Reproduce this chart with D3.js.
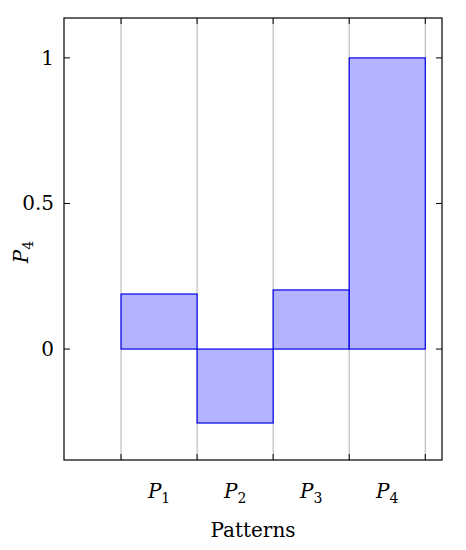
<!DOCTYPE html>
<html><head><meta charset="utf-8">
<script src="https://cdn.jsdelivr.net/npm/d3@7"></script>
<style>body{margin:0;background:#fff}svg text{font-family:"DejaVu Serif","Liberation Serif",serif}</style>
</head><body><svg id="c" width="466" height="550"></svg>
<script>
var categories = ["1", "2", "3", "4"];
var values = [0.189, -0.254, 0.203, 1.0];
var yTicks = [0, 0.5, 1];
var edges = [0.5, 1.5, 2.5, 3.5, 4.5];

var svg = d3.select("#c");
var L = 64, R = 442, T = 18, B = 460;
var x = d3.scaleLinear().domain([-0.25, 4.72]).range([L, R]);
var y = d3.scaleLinear().domain([-0.381, 1.137]).range([B, T]);

// vertical grid
svg.selectAll("line.g").data(edges).enter().append("line")
  .attr("x1", d => x(d)).attr("x2", d => x(d)).attr("y1", T).attr("y2", B)
  .attr("stroke", "#b0b0b0").attr("stroke-width", 1);

// bars
svg.selectAll("rect.b").data(values).enter().append("rect")
  .attr("x", (d, i) => x(edges[i])).attr("width", (d, i) => x(edges[i + 1]) - x(edges[i]))
  .attr("y", d => y(Math.max(0, d))).attr("height", d => Math.abs(y(d) - y(0)))
  .attr("fill", "#b3b3ff").attr("stroke", "#0000e6").attr("stroke-width", 1.2);

// frame
svg.append("rect").attr("x", L).attr("y", T).attr("width", R - L).attr("height", B - T)
  .attr("fill", "none").attr("stroke", "#000").attr("stroke-width", 1.2);

// y ticks
yTicks.forEach(function (t) {
  svg.append("line").attr("x1", L).attr("x2", L + 6).attr("y1", y(t)).attr("y2", y(t)).attr("stroke", "#000");
  svg.append("line").attr("x1", R).attr("x2", R - 6).attr("y1", y(t)).attr("y2", y(t)).attr("stroke", "#000");
  svg.append("text").attr("x", L - 10).attr("y", y(t) + 7).attr("text-anchor", "end")
    .attr("font-size", 20).text(d3.format("~g")(t));
});
// x ticks
edges.forEach(function (e) {
  svg.append("line").attr("x1", x(e)).attr("x2", x(e)).attr("y1", B).attr("y2", B - 6).attr("stroke", "#000");
  svg.append("line").attr("x1", x(e)).attr("x2", x(e)).attr("y1", T).attr("y2", T + 6).attr("stroke", "#000");
});
// x labels
categories.forEach(function (c, i) {
  var t = svg.append("text").attr("x", x(i + 1)).attr("y", 498).attr("text-anchor", "middle").attr("font-size", 20);
  t.append("tspan").attr("font-style", "italic").text("P");
  t.append("tspan").attr("font-size", 14).attr("dy", 5).text(c);
});
svg.append("text").attr("x", (L + R) / 2).attr("y", 537).attr("text-anchor", "middle")
  .attr("font-size", 20).text("Patterns");
var yl = svg.append("text").attr("transform", "translate(28," + ((T + B) / 2 + 13) + ") rotate(-90)")
  .attr("text-anchor", "middle").attr("font-size", 20);
yl.append("tspan").attr("font-style", "italic").text("P");
yl.append("tspan").attr("font-size", 14).attr("dy", 5).text("4");
</script></body></html>
